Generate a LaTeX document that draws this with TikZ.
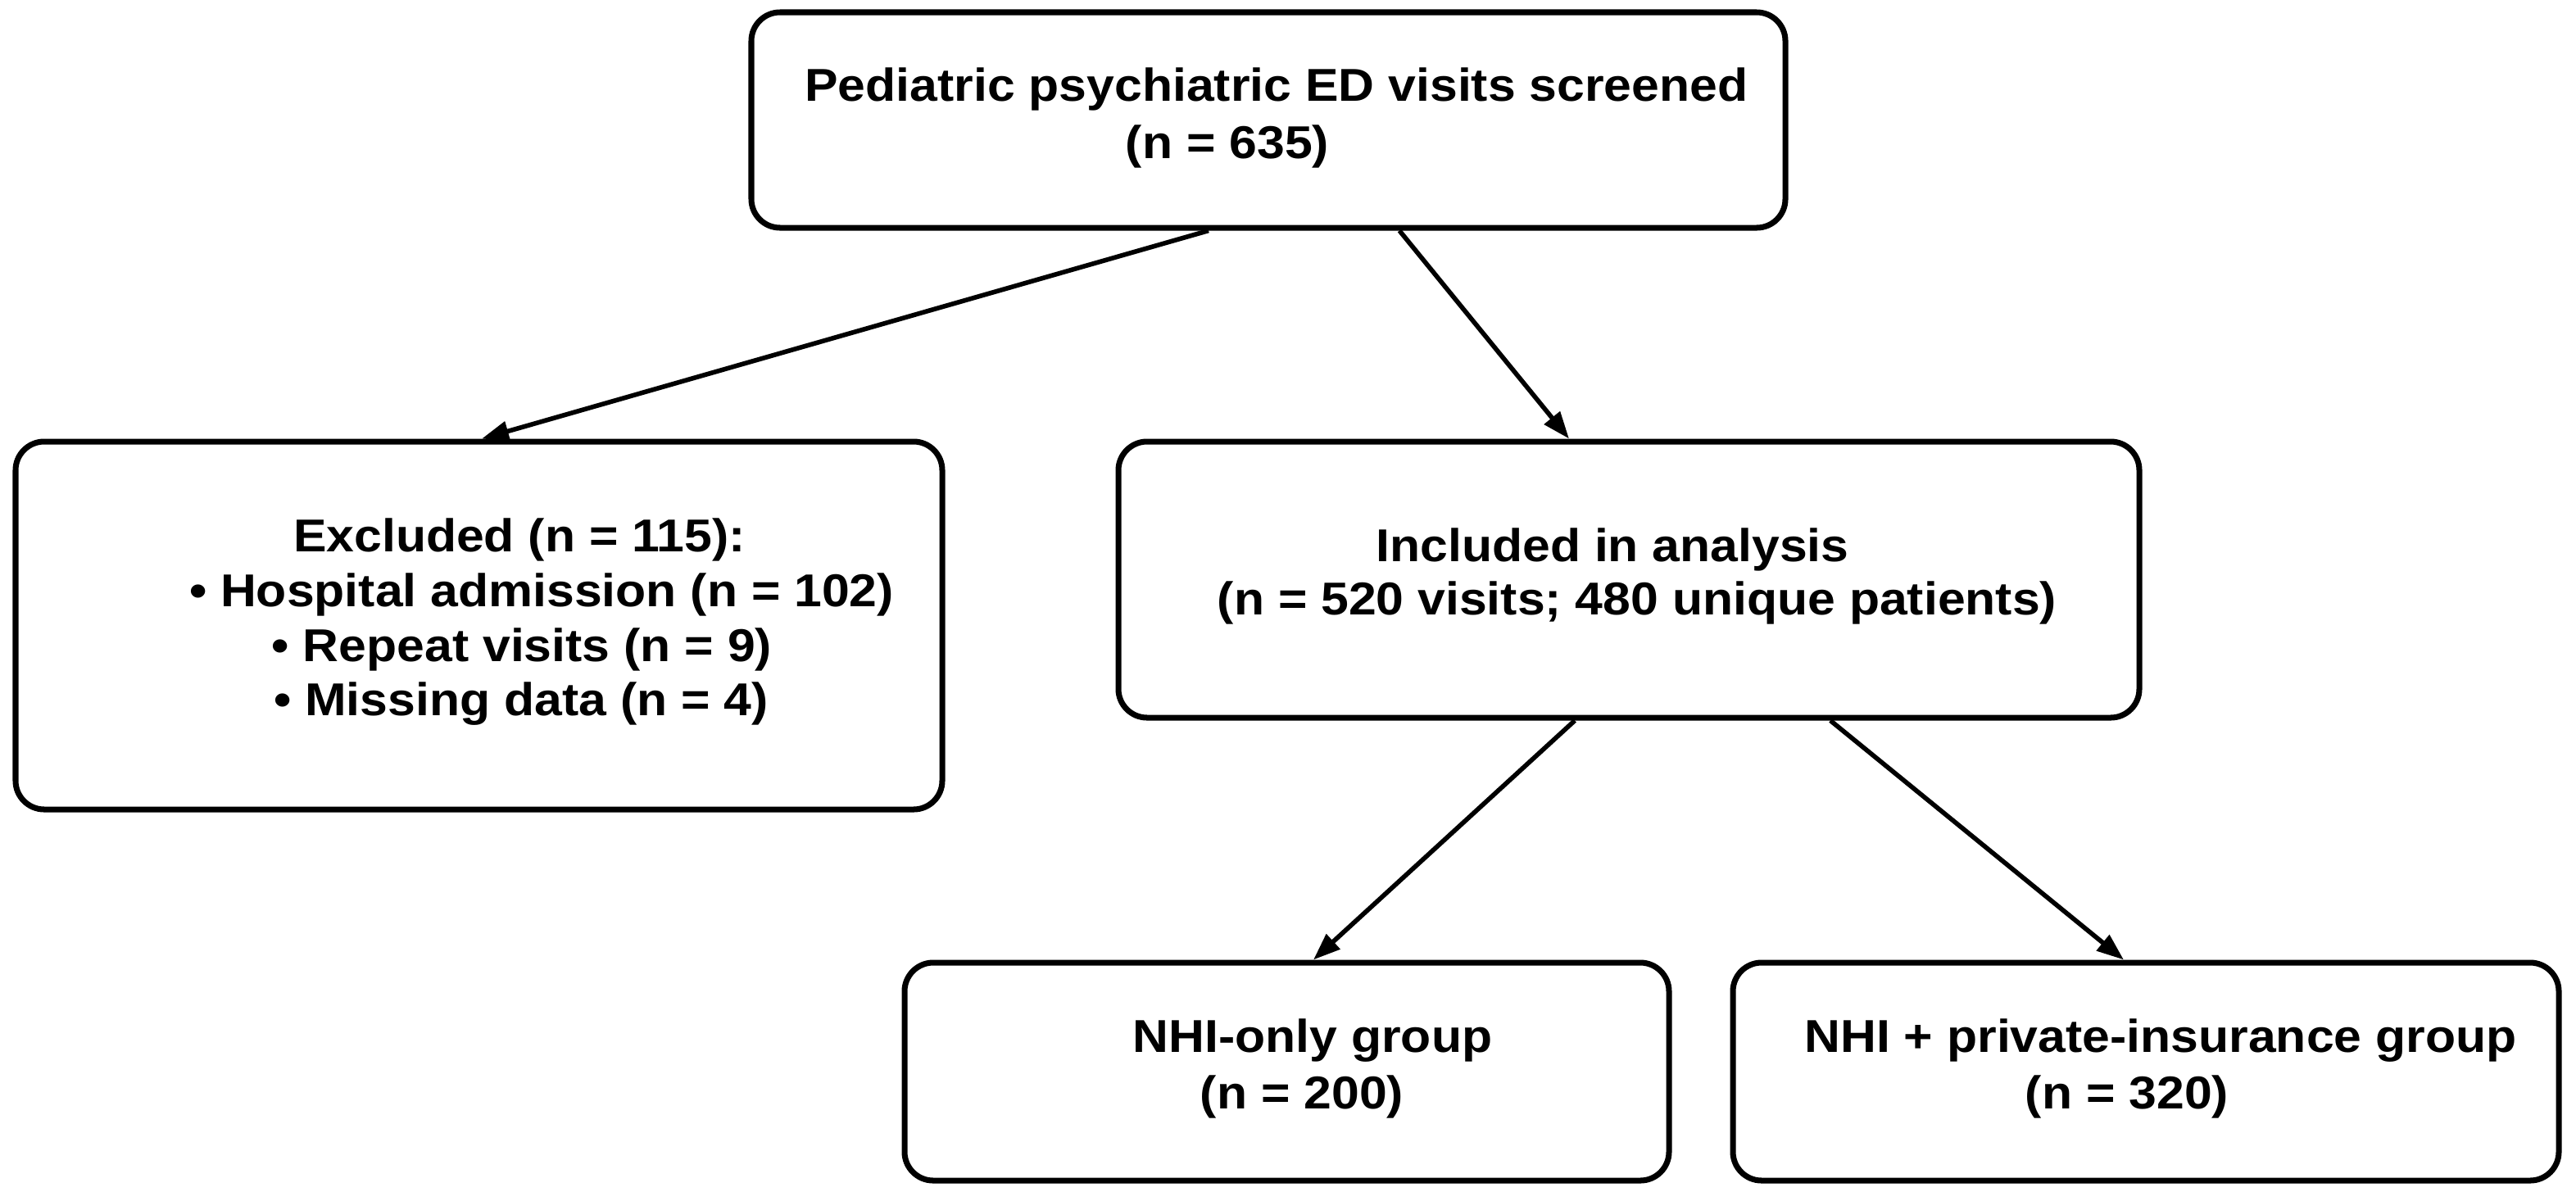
\documentclass[tikz,border=0pt]{standalone}
\usepackage{fontspec}
\setmainfont{Liberation Sans}[FakeStretch=1.08]
\usetikzlibrary{arrows.meta,calc}
\begin{document}
\begin{tikzpicture}[x=1cm,y=1cm,
  box/.style={draw=black,line width=2pt,rounded corners=0.35cm,fill=white,inner sep=0pt,anchor=center},
  txt/.style={anchor=base,inner sep=0pt,font=\fontsize{16}{20}\selectfont\bfseries},
  arr/.style={line width=1.6pt,-{Triangle[length=0.33cm,width=0.24cm]}}]
\useasboundingbox (0,0) rectangle (31.44,-14.54);
% boxes (px/100 -> cm)
\node[box,minimum width=12.62cm,minimum height=2.63cm] (top) at (15.48,-1.465) {};
\node[box,minimum width=11.31cm,minimum height=4.49cm] (excl) at (5.845,-7.635) {};
\node[box,minimum width=12.46cm,minimum height=3.37cm] (incl) at (19.88,-7.075) {};
\node[box,minimum width=9.33cm,minimum height=2.66cm] (nhi) at (15.705,-13.08) {};
\node[box,minimum width=10.08cm,minimum height=2.66cm] (priv) at (26.19,-13.08) {};
% texts
\node[txt] (t1) at (15.58,-1.23) {Pediatric psychiatric ED visits screened};
\node[txt] (t2) at (14.98,-1.93) {(n = 635)};
\node[txt] (e1) at (6.34,-6.73) {Excluded (n = 115):};
\node[txt] (e2) at (6.61,-7.40) {• Hospital admission (n = 102)};
\node[txt] (e3) at (6.37,-8.07) {• Repeat visits (n = 9)};
\node[txt] (e4) at (6.36,-8.73) {• Missing data (n = 4)};
\node[txt] (i1) at (19.68,-6.85) {Included in analysis};
\node[txt] (i2) at (19.98,-7.50) {(n = 520 visits; 480 unique patients)};
\node[txt] (n1) at (16.02,-12.84) {NHI-only group};
\node[txt] (n2) at (15.89,-13.53) {(n = 200)};
\node[txt] (p1) at (26.37,-12.84) {NHI + private-insurance group};
\node[txt] (p2) at (25.96,-13.53) {(n = 320)};
% connectors
\draw[arr] ([xshift=-0.73cm]top.south) -- ([xshift=0.035cm]excl.north);
\draw[arr] ([xshift=1.60cm]top.south) -- ([xshift=-0.73cm]incl.north);
\draw[arr] ([xshift=-0.66cm]incl.south) -- ([xshift=0.325cm]nhi.north);
\draw[arr] ([xshift=2.46cm]incl.south) -- ([xshift=-0.27cm]priv.north);
\end{tikzpicture}
\end{document}
